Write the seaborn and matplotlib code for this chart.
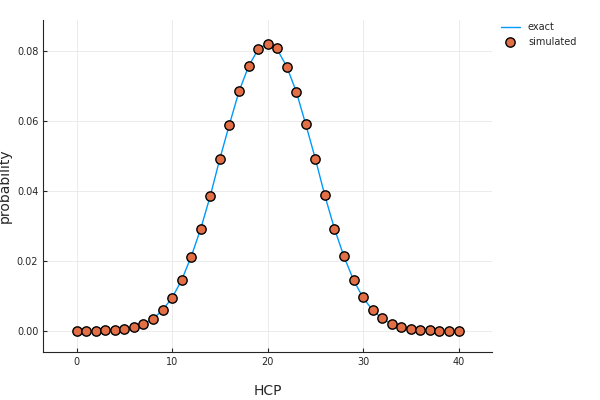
import seaborn as sns
import matplotlib.pyplot as plt

sns.set_style('white')
plt.rcParams['font.family'] = ['DejaVu Sans']

hcp = list(range(41))
exact = [0.0000, 0.0000, 0.0000, 0.0001, 0.0002, 0.0004, 0.0007, 0.0011, 0.0020, 0.0035,
         0.0060, 0.0095, 0.0146, 0.0213, 0.0293, 0.0387, 0.0493, 0.0591, 0.0685, 0.0757,
         0.0806, 0.0823, 0.0806, 0.0757, 0.0685, 0.0591, 0.0493, 0.0387, 0.0293, 0.0213,
         0.0146, 0.0095, 0.0060, 0.0035, 0.0020, 0.0011, 0.0007, 0.0004, 0.0002, 0.0001,
         0.0000]
exact = exact[1:] + [0.0000]  # peak at HCP 20
simulated = [0.0000, 0.0000, 0.0000, 0.0001, 0.0002, 0.0004, 0.0007, 0.0011, 0.0020, 0.0035,
             0.0060, 0.0095, 0.0147, 0.0213, 0.0293, 0.0386, 0.0493, 0.0590, 0.0686, 0.0757,
             0.0806, 0.0822, 0.0810, 0.0756, 0.0683, 0.0592, 0.0492, 0.0388, 0.0293, 0.0216,
             0.0147, 0.0096, 0.0060, 0.0036, 0.0021, 0.0011, 0.0007, 0.0004, 0.0002, 0.0001,
             0.0000]
simulated = simulated[1:] + [0.0000]

fig, ax = plt.subplots(figsize=(6, 4), dpi=100)
fig.subplots_adjust(left=0.072, right=0.82, top=0.95, bottom=0.12)
sns.lineplot(x=hcp, y=exact, ax=ax, color='#009AFA', linewidth=1, label='exact')
sns.scatterplot(x=hcp, y=simulated, ax=ax, color='#E26F46', edgecolor='black',
                linewidth=1, s=45, label='simulated', zorder=3)
ax.set_xlim(-3.5, 43.5)
ax.set_ylim(-0.006, 0.089)
ax.set_xticks([0, 10, 20, 30, 40])
ax.set_yticks([0, 0.02, 0.04, 0.06, 0.08])
ax.set_yticklabels(['0.00', '0.02', '0.04', '0.06', '0.08'])
ax.tick_params(labelsize=7, length=3, direction='in', left=True, bottom=True)
ax.grid(True, color='#e8e8e8', linewidth=0.6)
for s in ['top', 'right']:
    ax.spines[s].set_visible(False)
ax.set_xlabel('HCP', fontsize=10, labelpad=12)
ax.set_ylabel('probability', fontsize=10)
ax.legend(loc='upper left', bbox_to_anchor=(1.0, 1.02), frameon=False, fontsize=7)
plt.savefig('out.png')
